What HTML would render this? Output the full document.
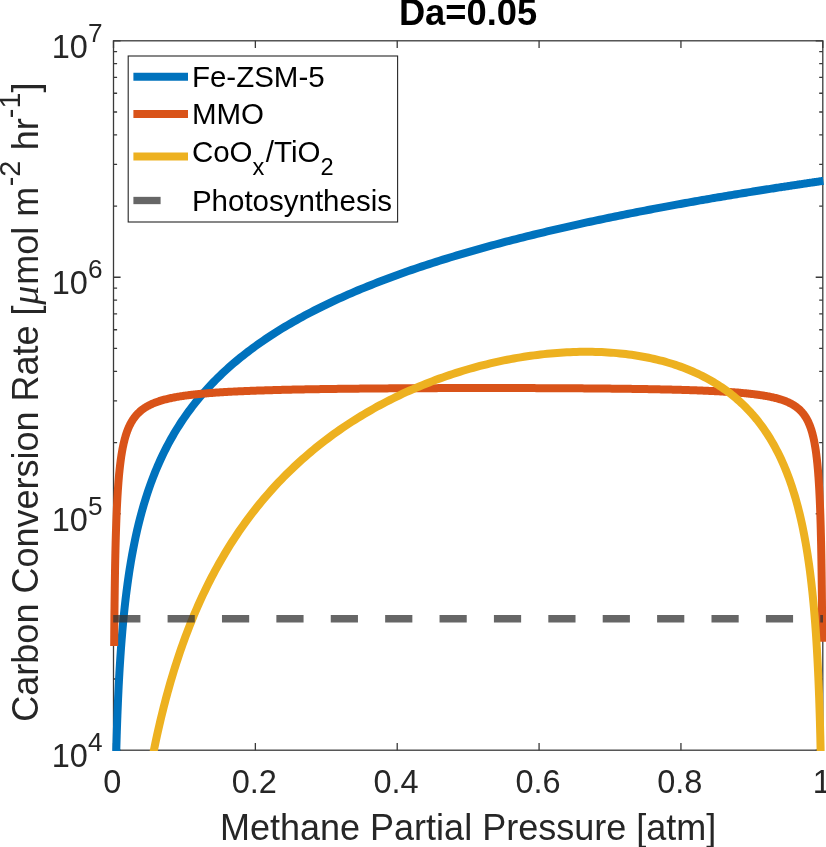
<!DOCTYPE html>
<html><head><meta charset="utf-8"><title>Da=0.05</title>
<style>
html,body{margin:0;padding:0;background:#fff;}
body{width:826px;height:847px;overflow:hidden;}
svg{display:block;font-family:"Liberation Sans",Arial,Helvetica,sans-serif;}
</style></head><body>
<svg width="826" height="847" viewBox="0 0 826 847">
<defs><clipPath id="c"><rect x="109" y="36" width="720" height="715"/></clipPath></defs>
<rect width="826" height="847" fill="#fff"/>
<g fill="none" stroke="#3a3a3a" stroke-width="1.3">
<rect x="113.5" y="40.8" width="709.3" height="709.4000000000001"/>
<path d="M113.50 750.20 v-7.1 M113.50 40.80 v7.1 M255.36 750.20 v-7.1 M255.36 40.80 v7.1 M397.22 750.20 v-7.1 M397.22 40.80 v7.1 M539.08 750.20 v-7.1 M539.08 40.80 v7.1 M680.94 750.20 v-7.1 M680.94 40.80 v7.1 M822.80 750.20 v-7.1 M822.80 40.80 v7.1 M113.50 750.20 h7.1 M822.80 750.20 h-7.1 M113.50 679.02 h3.6 M822.80 679.02 h-3.6 M113.50 637.38 h3.6 M822.80 637.38 h-3.6 M113.50 607.83 h3.6 M822.80 607.83 h-3.6 M113.50 584.92 h3.6 M822.80 584.92 h-3.6 M113.50 566.19 h3.6 M822.80 566.19 h-3.6 M113.50 550.36 h3.6 M822.80 550.36 h-3.6 M113.50 536.65 h3.6 M822.80 536.65 h-3.6 M113.50 524.55 h3.6 M822.80 524.55 h-3.6 M113.50 513.73 h7.1 M822.80 513.73 h-7.1 M113.50 442.55 h3.6 M822.80 442.55 h-3.6 M113.50 400.91 h3.6 M822.80 400.91 h-3.6 M113.50 371.37 h3.6 M822.80 371.37 h-3.6 M113.50 348.45 h3.6 M822.80 348.45 h-3.6 M113.50 329.73 h3.6 M822.80 329.73 h-3.6 M113.50 313.90 h3.6 M822.80 313.90 h-3.6 M113.50 300.18 h3.6 M822.80 300.18 h-3.6 M113.50 288.09 h3.6 M822.80 288.09 h-3.6 M113.50 277.27 h7.1 M822.80 277.27 h-7.1 M113.50 206.08 h3.6 M822.80 206.08 h-3.6 M113.50 164.44 h3.6 M822.80 164.44 h-3.6 M113.50 134.90 h3.6 M822.80 134.90 h-3.6 M113.50 111.98 h3.6 M822.80 111.98 h-3.6 M113.50 93.26 h3.6 M822.80 93.26 h-3.6 M113.50 77.43 h3.6 M822.80 77.43 h-3.6 M113.50 63.72 h3.6 M822.80 63.72 h-3.6 M113.50 51.62 h3.6 M822.80 51.62 h-3.6 M113.50 40.80 h7.1 M822.80 40.80 h-7.1"/>
</g>
<g clip-path="url(#c)" fill="none" stroke-width="8" stroke-linejoin="round">
<path d="M114.92 790.20 L115.40 789.24 L115.45 786.66 L115.50 783.97 L115.55 781.15 L115.61 778.23 L115.68 775.20 L115.74 772.06 L115.82 768.82 L115.89 765.48 L115.97 762.05 L116.06 758.54 L116.15 754.94 L116.25 751.27 L116.35 747.52 L116.46 743.71 L116.57 739.83 L116.69 735.90 L116.82 731.92 L116.95 727.89 L117.09 723.83 L117.24 719.72 L117.39 715.59 L117.55 711.42 L117.72 707.24 L117.89 703.03 L118.08 698.81 L118.27 694.58 L118.47 690.34 L118.68 686.09 L118.90 681.84 L119.13 677.59 L119.37 673.35 L119.61 669.11 L119.87 664.88 L120.14 660.66 L120.42 656.45 L120.71 652.25 L121.00 648.07 L121.32 643.90 L121.64 639.76 L121.97 635.63 L122.32 631.53 L122.67 627.44 L123.04 623.38 L123.43 619.34 L123.82 615.33 L124.23 611.34 L124.65 607.37 L125.09 603.43 L125.54 599.52 L126.00 595.64 L126.48 591.78 L126.98 587.95 L127.49 584.15 L128.01 580.37 L128.55 576.63 L129.10 572.91 L129.67 569.22 L130.26 565.55 L130.86 561.92 L131.48 558.32 L132.12 554.74 L132.78 551.19 L133.45 547.67 L134.14 544.18 L134.85 540.72 L135.57 537.28 L136.32 533.87 L137.08 530.49 L137.86 527.14 L138.67 523.82 L139.49 520.52 L140.33 517.25 L141.19 514.01 L142.07 510.79 L142.97 507.60 L143.89 504.44 L144.83 501.30 L145.80 498.19 L146.78 495.10 L147.79 492.04 L148.82 489.01 L149.87 486.00 L150.94 483.02 L152.03 480.06 L153.15 477.12 L154.29 474.21 L155.45 471.33 L156.64 468.47 L157.85 465.63 L159.08 462.81 L160.34 460.02 L161.62 457.25 L162.92 454.51 L164.25 451.79 L165.60 449.09 L166.98 446.41 L168.38 443.75 L169.80 441.12 L171.25 438.51 L172.73 435.92 L174.23 433.35 L175.75 430.80 L177.30 428.27 L178.88 425.77 L180.48 423.28 L182.11 420.82 L183.76 418.37 L185.44 415.95 L187.15 413.54 L188.88 411.16 L190.63 408.79 L192.42 406.44 L194.22 404.12 L196.06 401.81 L197.92 399.52 L199.81 397.25 L201.72 395.00 L203.66 392.76 L205.63 390.55 L207.62 388.35 L209.64 386.17 L211.68 384.01 L213.75 381.86 L215.85 379.74 L217.98 377.63 L220.13 375.54 L222.30 373.46 L224.50 371.40 L226.73 369.36 L228.99 367.34 L231.27 365.33 L233.57 363.34 L235.90 361.36 L238.26 359.41 L240.64 357.46 L243.05 355.54 L245.49 353.62 L247.94 351.73 L250.43 349.85 L252.94 347.98 L255.47 346.14 L258.03 344.30 L260.61 342.48 L263.22 340.68 L265.85 338.89 L268.50 337.12 L271.18 335.36 L273.88 333.61 L276.61 331.88 L279.36 330.17 L282.13 328.46 L284.92 326.78 L287.74 325.10 L290.58 323.44 L293.44 321.80 L296.32 320.17 L299.22 318.55 L302.15 316.94 L305.09 315.35 L308.06 313.77 L311.04 312.21 L314.05 310.66 L317.08 309.12 L320.12 307.60 L323.19 306.09 L326.27 304.59 L329.37 303.10 L332.49 301.63 L335.62 300.17 L338.78 298.72 L341.95 297.28 L345.14 295.86 L348.34 294.45 L351.56 293.05 L354.79 291.67 L358.04 290.29 L361.31 288.93 L364.59 287.58 L367.88 286.24 L371.19 284.92 L374.51 283.60 L377.84 282.30 L381.18 281.01 L384.54 279.73 L387.91 278.46 L391.29 277.20 L394.67 275.96 L398.07 274.72 L401.48 273.50 L404.90 272.29 L408.33 271.09 L411.76 269.90 L415.20 268.72 L418.65 267.55 L422.11 266.40 L425.57 265.25 L429.04 264.11 L432.52 262.99 L436.00 261.88 L439.48 260.77 L442.97 259.68 L446.46 258.60 L449.96 257.52 L453.45 256.46 L456.95 255.41 L460.46 254.37 L463.96 253.34 L467.46 252.32 L470.97 251.30 L474.47 250.30 L477.97 249.31 L481.47 248.33 L484.97 247.36 L488.47 246.39 L491.97 245.44 L495.46 244.50 L498.95 243.56 L502.43 242.64 L505.91 241.73 L509.39 240.82 L512.85 239.92 L516.32 239.04 L519.77 238.16 L523.22 237.29 L526.67 236.43 L530.10 235.58 L533.53 234.74 L536.95 233.91 L540.35 233.08 L543.75 232.27 L547.14 231.46 L550.52 230.67 L553.89 229.88 L557.24 229.10 L560.59 228.33 L563.92 227.57 L567.24 226.81 L570.55 226.07 L573.84 225.33 L577.12 224.60 L580.38 223.88 L583.63 223.17 L586.87 222.46 L590.09 221.77 L593.29 221.08 L596.48 220.40 L599.65 219.73 L602.80 219.06 L605.94 218.41 L609.06 217.76 L612.16 217.12 L615.24 216.48 L618.31 215.86 L621.35 215.24 L624.38 214.63 L627.38 214.03 L630.37 213.43 L633.34 212.85 L636.28 212.27 L639.20 211.69 L642.11 211.13 L644.99 210.57 L647.85 210.02 L650.69 209.47 L653.51 208.94 L656.30 208.41 L659.07 207.88 L661.82 207.37 L664.54 206.86 L667.25 206.36 L669.92 205.86 L672.58 205.37 L675.21 204.89 L677.82 204.42 L680.40 203.95 L682.96 203.48 L685.49 203.03 L688.00 202.58 L690.48 202.14 L692.94 201.70 L695.38 201.27 L697.78 200.84 L700.17 200.43 L702.52 200.01 L704.86 199.61 L707.16 199.21 L709.44 198.82 L711.70 198.43 L713.92 198.05 L716.13 197.67 L718.30 197.30 L720.45 196.94 L722.58 196.58 L724.67 196.22 L726.74 195.88 L728.79 195.53 L730.81 195.20 L732.80 194.87 L734.77 194.54 L736.71 194.22 L738.62 193.91 L740.51 193.60 L742.37 193.29 L744.20 192.99 L746.01 192.70 L747.80 192.41 L749.55 192.13 L751.28 191.85 L752.99 191.57 L754.67 191.30 L756.32 191.04 L757.95 190.78 L759.55 190.52 L761.12 190.27 L762.68 190.03 L764.20 189.79 L765.70 189.55 L767.18 189.32 L768.63 189.09 L770.05 188.87 L771.45 188.65 L772.83 188.43 L774.18 188.22 L775.51 188.02 L776.81 187.82 L778.09 187.62 L779.35 187.42 L780.58 187.23 L781.79 187.05 L782.97 186.87 L784.14 186.69 L785.28 186.51 L786.39 186.34 L787.49 186.18 L788.56 186.01 L789.61 185.85 L790.64 185.70 L791.64 185.55 L792.63 185.40 L793.59 185.25 L794.54 185.11 L795.46 184.97 L796.36 184.83 L797.24 184.70 L798.10 184.57 L798.94 184.45 L799.76 184.32 L800.56 184.20 L801.35 184.09 L802.11 183.97 L802.86 183.86 L803.58 183.75 L804.29 183.65 L804.98 183.55 L805.65 183.45 L806.31 183.35 L806.94 183.25 L807.56 183.16 L808.17 183.07 L808.75 182.99 L809.33 182.90 L809.88 182.82 L810.42 182.74 L810.94 182.66 L811.45 182.59 L812.42 182.45 L813.34 182.31 L814.20 182.19 L815.00 182.07 L815.75 181.96 L816.46 181.85 L817.11 181.76 L817.72 181.67 L818.29 181.59 L818.81 181.51 L819.53 181.41 L820.16 181.32 L820.71 181.24 L821.34 181.14 L821.86 181.07 L822.37 180.99 L822.87 180.92 L823.37 180.85" stroke="#0072BD"/>
<path d="M114.17 645.90 L114.17 645.31 L114.18 644.68 L114.18 643.96 L114.19 643.33 L114.19 642.56 L114.20 641.63 L114.20 641.10 L114.21 640.53 L114.21 639.91 L114.22 639.25 L114.22 638.53 L114.23 637.76 L114.23 636.94 L114.24 636.06 L114.25 635.13 L114.26 634.14 L114.26 633.09 L114.27 631.98 L114.28 630.81 L114.29 629.58 L114.30 628.29 L114.32 626.93 L114.33 625.52 L114.34 624.04 L114.36 622.50 L114.37 620.90 L114.39 619.24 L114.40 617.52 L114.42 615.75 L114.44 613.92 L114.46 612.03 L114.48 610.09 L114.50 608.09 L114.53 606.05 L114.55 603.96 L114.57 601.82 L114.60 599.64 L114.63 597.42 L114.66 595.16 L114.69 592.86 L114.72 590.53 L114.75 588.16 L114.79 585.77 L114.82 583.35 L114.86 580.90 L114.90 578.44 L114.94 575.95 L114.98 573.45 L115.02 570.93 L115.07 568.40 L115.12 565.86 L115.17 563.32 L115.22 560.77 L115.27 558.22 L115.33 555.66 L115.38 553.11 L115.44 550.56 L115.50 548.02 L115.57 545.49 L115.63 542.96 L115.70 540.44 L115.77 537.94 L115.84 535.45 L115.92 532.98 L115.99 530.52 L116.07 528.08 L116.16 525.66 L116.24 523.26 L116.33 520.88 L116.42 518.52 L116.51 516.19 L116.61 513.88 L116.71 511.59 L116.81 509.33 L116.91 507.10 L117.02 504.89 L117.13 502.71 L117.25 500.56 L117.36 498.43 L117.48 496.34 L117.61 494.27 L117.73 492.23 L117.86 490.22 L118.00 488.25 L118.14 486.30 L118.28 484.38 L118.42 482.49 L118.57 480.63 L118.72 478.80 L118.88 477.00 L119.04 475.23 L119.20 473.49 L119.37 471.78 L119.54 470.10 L119.72 468.45 L119.90 466.83 L120.08 465.24 L120.27 463.67 L120.46 462.14 L120.66 460.63 L120.86 459.15 L121.07 457.70 L121.28 456.28 L121.49 454.88 L121.71 453.51 L121.94 452.17 L122.17 450.85 L122.40 449.56 L122.64 448.30 L122.89 447.06 L123.14 445.84 L123.40 444.65 L123.66 443.48 L123.92 442.34 L124.19 441.22 L124.47 440.12 L124.75 439.05 L125.04 437.99 L125.33 436.96 L125.63 435.95 L125.93 434.97 L126.24 434.00 L126.56 433.05 L126.88 432.12 L127.21 431.21 L127.54 430.32 L127.88 429.45 L128.23 428.60 L128.58 427.77 L128.94 426.95 L129.31 426.15 L129.68 425.37 L130.06 424.61 L130.44 423.86 L130.83 423.13 L131.23 422.41 L131.63 421.71 L132.04 421.02 L132.46 420.35 L132.89 419.69 L133.32 419.05 L133.76 418.42 L134.20 417.80 L134.66 417.20 L135.12 416.61 L135.58 416.03 L136.06 415.47 L136.54 414.91 L137.03 414.37 L137.53 413.84 L138.03 413.32 L138.54 412.82 L139.06 412.32 L139.59 411.83 L140.13 411.36 L140.67 410.89 L141.22 410.44 L141.78 409.99 L142.35 409.55 L142.92 409.13 L143.50 408.71 L144.10 408.30 L144.70 407.90 L145.30 407.51 L145.92 407.12 L146.54 406.74 L147.18 406.38 L147.82 406.02 L148.47 405.66 L149.13 405.32 L149.79 404.98 L150.47 404.65 L151.15 404.32 L151.85 404.00 L152.55 403.69 L153.26 403.39 L153.98 403.09 L154.71 402.79 L155.44 402.51 L156.19 402.23 L156.95 401.95 L157.71 401.68 L158.49 401.42 L159.27 401.16 L160.06 400.90 L160.86 400.66 L161.67 400.41 L162.49 400.17 L163.32 399.94 L164.16 399.71 L165.01 399.49 L165.87 399.27 L166.74 399.05 L167.62 398.84 L168.50 398.63 L169.40 398.43 L170.31 398.23 L171.22 398.03 L172.15 397.84 L173.08 397.65 L174.03 397.47 L174.98 397.29 L175.95 397.11 L176.92 396.93 L177.91 396.76 L178.90 396.60 L179.91 396.43 L180.92 396.27 L181.95 396.11 L182.98 395.96 L184.03 395.81 L185.08 395.66 L186.15 395.51 L187.22 395.37 L188.31 395.23 L189.40 395.09 L190.51 394.95 L191.63 394.82 L192.75 394.69 L193.89 394.56 L195.03 394.43 L196.19 394.31 L197.36 394.19 L198.53 394.07 L199.72 393.95 L200.92 393.84 L202.13 393.72 L203.34 393.61 L204.57 393.51 L205.81 393.40 L207.06 393.29 L208.32 393.19 L209.59 393.09 L210.87 392.99 L212.16 392.89 L213.46 392.80 L214.77 392.70 L216.09 392.61 L217.42 392.52 L218.76 392.43 L220.11 392.34 L221.47 392.26 L222.84 392.17 L224.22 392.09 L225.61 392.01 L227.02 391.93 L228.43 391.85 L229.85 391.77 L231.28 391.70 L232.72 391.62 L234.17 391.55 L235.64 391.48 L237.11 391.41 L238.59 391.34 L240.08 391.27 L241.58 391.20 L243.10 391.14 L244.62 391.07 L246.15 391.01 L247.69 390.94 L249.24 390.88 L250.80 390.82 L252.37 390.76 L253.95 390.71 L255.54 390.65 L257.14 390.59 L258.75 390.54 L260.37 390.48 L262.00 390.43 L263.63 390.38 L265.28 390.32 L266.93 390.27 L268.60 390.22 L270.27 390.17 L271.96 390.13 L273.65 390.08 L275.35 390.03 L277.06 389.99 L278.78 389.94 L280.51 389.90 L282.25 389.85 L283.99 389.81 L285.75 389.77 L287.51 389.73 L289.28 389.69 L291.06 389.65 L292.85 389.61 L294.65 389.57 L296.45 389.53 L298.27 389.49 L300.09 389.46 L301.92 389.42 L303.76 389.39 L305.61 389.35 L307.46 389.32 L309.32 389.29 L311.19 389.25 L313.07 389.22 L314.96 389.19 L316.85 389.16 L318.75 389.13 L320.66 389.10 L322.57 389.07 L324.50 389.04 L326.43 389.01 L328.36 388.98 L330.31 388.96 L332.26 388.93 L334.22 388.90 L336.18 388.88 L338.15 388.85 L340.13 388.83 L342.11 388.80 L344.11 388.78 L346.10 388.76 L348.11 388.73 L350.12 388.71 L352.13 388.69 L354.15 388.67 L356.18 388.65 L358.21 388.63 L360.25 388.61 L362.30 388.59 L364.35 388.57 L366.40 388.55 L368.46 388.53 L370.53 388.51 L372.60 388.49 L374.67 388.48 L376.75 388.46 L378.84 388.44 L380.93 388.43 L383.02 388.41 L385.12 388.40 L387.23 388.38 L389.33 388.37 L391.45 388.35 L393.56 388.34 L395.68 388.32 L397.80 388.31 L399.93 388.30 L402.06 388.29 L404.20 388.27 L406.34 388.26 L408.48 388.25 L410.62 388.24 L412.77 388.23 L414.92 388.22 L417.07 388.21 L419.23 388.20 L421.39 388.19 L423.55 388.18 L425.71 388.17 L427.88 388.16 L430.04 388.15 L432.21 388.15 L434.38 388.14 L436.56 388.13 L438.73 388.12 L440.91 388.12 L443.09 388.11 L445.27 388.11 L447.45 388.10 L449.63 388.09 L451.81 388.09 L454.00 388.08 L456.18 388.08 L458.37 388.08 L460.55 388.07 L462.74 388.07 L464.92 388.07 L467.11 388.06 L469.30 388.06 L471.48 388.06 L473.67 388.06 L475.86 388.05 L478.04 388.05 L480.23 388.05 L482.41 388.05 L484.60 388.05 L486.78 388.05 L488.96 388.05 L491.14 388.05 L493.32 388.05 L495.50 388.05 L497.68 388.05 L499.85 388.05 L502.02 388.06 L504.20 388.06 L506.37 388.06 L508.53 388.06 L510.70 388.07 L512.86 388.07 L515.02 388.07 L517.18 388.08 L519.34 388.08 L521.49 388.09 L523.64 388.09 L525.79 388.10 L527.93 388.10 L530.07 388.11 L532.21 388.11 L534.35 388.12 L536.48 388.13 L538.60 388.13 L540.73 388.14 L542.85 388.15 L544.96 388.16 L547.07 388.17 L549.18 388.18 L551.29 388.18 L553.38 388.19 L555.48 388.20 L557.57 388.21 L559.65 388.22 L561.74 388.24 L563.81 388.25 L565.88 388.26 L567.95 388.27 L570.01 388.28 L572.06 388.29 L574.11 388.31 L576.16 388.32 L578.20 388.33 L580.23 388.35 L582.26 388.36 L584.28 388.38 L586.29 388.39 L588.30 388.41 L590.31 388.43 L592.30 388.44 L594.29 388.46 L596.28 388.48 L598.26 388.49 L600.23 388.51 L602.19 388.53 L604.15 388.55 L606.10 388.57 L608.04 388.59 L609.98 388.61 L611.91 388.63 L613.83 388.65 L615.75 388.67 L617.66 388.69 L619.56 388.72 L621.45 388.74 L623.34 388.76 L625.22 388.79 L627.09 388.81 L628.95 388.84 L630.80 388.86 L632.65 388.89 L634.49 388.92 L636.32 388.94 L638.14 388.97 L639.95 389.00 L641.76 389.03 L643.56 389.06 L645.35 389.09 L647.13 389.12 L648.90 389.15 L650.66 389.18 L652.42 389.21 L654.16 389.24 L655.90 389.28 L657.63 389.31 L659.35 389.35 L661.06 389.38 L662.76 389.42 L664.45 389.46 L666.14 389.49 L667.81 389.53 L669.47 389.57 L671.13 389.61 L672.78 389.65 L674.41 389.69 L676.04 389.73 L677.66 389.78 L679.27 389.82 L680.87 389.87 L682.46 389.91 L684.04 389.96 L685.61 390.00 L687.17 390.05 L688.72 390.10 L690.26 390.15 L691.79 390.20 L693.31 390.25 L694.82 390.30 L696.33 390.36 L697.82 390.41 L699.30 390.47 L700.77 390.52 L702.23 390.58 L703.69 390.64 L705.13 390.70 L706.56 390.76 L707.98 390.82 L709.39 390.88 L710.79 390.95 L712.19 391.01 L713.57 391.08 L714.94 391.15 L716.30 391.22 L717.65 391.29 L718.99 391.36 L720.32 391.43 L721.64 391.51 L722.95 391.58 L724.25 391.66 L725.54 391.74 L726.82 391.82 L728.09 391.90 L729.35 391.98 L730.60 392.07 L731.84 392.15 L733.06 392.24 L734.28 392.33 L735.49 392.42 L736.69 392.52 L737.87 392.61 L739.05 392.71 L740.22 392.81 L741.37 392.91 L742.52 393.01 L743.66 393.11 L744.78 393.22 L745.90 393.33 L747.00 393.44 L748.10 393.55 L749.19 393.67 L750.26 393.78 L751.33 393.90 L752.38 394.03 L753.43 394.15 L754.46 394.28 L755.48 394.41 L756.50 394.54 L757.50 394.67 L758.50 394.81 L759.48 394.95 L760.46 395.09 L761.42 395.24 L762.38 395.38 L763.33 395.54 L764.26 395.69 L765.19 395.85 L766.10 396.01 L767.01 396.17 L767.91 396.34 L768.79 396.51 L769.67 396.69 L770.54 396.86 L771.40 397.05 L772.25 397.23 L773.08 397.42 L773.91 397.61 L774.73 397.81 L775.55 398.01 L776.35 398.22 L777.14 398.43 L777.92 398.64 L778.70 398.86 L779.46 399.09 L780.22 399.32 L780.96 399.55 L781.70 399.79 L782.43 400.03 L783.15 400.28 L783.86 400.53 L784.56 400.79 L785.26 401.06 L785.94 401.33 L786.62 401.61 L787.28 401.89 L787.94 402.18 L788.59 402.47 L789.23 402.78 L789.87 403.09 L790.49 403.40 L791.11 403.72 L791.71 404.05 L792.31 404.39 L792.90 404.73 L793.49 405.09 L794.06 405.45 L794.63 405.81 L795.19 406.19 L795.74 406.58 L796.28 406.97 L796.82 407.37 L797.34 407.78 L797.86 408.21 L798.38 408.64 L798.88 409.08 L799.38 409.53 L799.87 409.99 L800.35 410.46 L800.82 410.94 L801.29 411.43 L801.75 411.94 L802.21 412.45 L802.65 412.98 L803.09 413.52 L803.52 414.07 L803.95 414.64 L804.36 415.22 L804.78 415.81 L805.18 416.41 L805.58 417.03 L805.97 417.67 L806.35 418.32 L806.73 418.98 L807.10 419.66 L807.47 420.35 L807.83 421.06 L808.18 421.79 L808.52 422.53 L808.86 423.29 L809.20 424.07 L809.53 424.87 L809.85 425.68 L810.16 426.51 L810.47 427.37 L810.78 428.24 L811.08 429.13 L811.37 430.04 L811.66 430.98 L811.94 431.93 L812.22 432.91 L812.49 433.90 L812.75 434.93 L813.01 435.97 L813.27 437.04 L813.52 438.13 L813.76 439.24 L814.00 440.38 L814.24 441.55 L814.47 442.74 L814.69 443.95 L814.91 445.20 L815.13 446.47 L815.34 447.76 L815.55 449.09 L815.75 450.44 L815.95 451.82 L816.14 453.23 L816.33 454.67 L816.51 456.14 L816.69 457.64 L816.87 459.17 L817.04 460.73 L817.21 462.32 L817.37 463.95 L817.53 465.60 L817.69 467.29 L817.84 469.01 L817.99 470.76 L818.13 472.54 L818.27 474.36 L818.41 476.20 L818.54 478.09 L818.67 480.00 L818.80 481.95 L818.92 483.93 L819.05 485.94 L819.16 487.98 L819.28 490.06 L819.39 492.17 L819.49 494.31 L819.60 496.49 L819.70 498.69 L819.80 500.93 L819.90 503.20 L819.99 505.49 L820.08 507.82 L820.17 510.17 L820.25 512.55 L820.33 514.96 L820.41 517.39 L820.49 519.85 L820.57 522.34 L820.64 524.84 L820.71 527.37 L820.78 529.91 L820.84 532.48 L820.90 535.06 L820.97 537.66 L821.03 540.27 L821.08 542.89 L821.14 545.52 L821.19 548.17 L821.24 550.81 L821.29 553.46 L821.34 556.11 L821.38 558.76 L821.43 561.41 L821.47 564.04 L821.51 566.68 L821.55 569.29 L821.59 571.90 L821.62 574.49 L821.66 577.05 L821.69 579.60 L821.72 582.12 L821.75 584.61 L821.78 587.07 L821.81 589.49 L821.83 591.88 L821.86 594.22 L821.88 596.53 L821.91 598.79 L821.93 601.00 L821.95 603.16 L821.97 605.26 L821.99 607.31 L822.00 609.31 L822.02 611.24 L822.04 613.12 L822.05 614.93 L822.07 616.68 L822.08 618.36 L822.09 619.98 L822.10 621.53 L822.11 623.02 L822.12 624.43 L822.13 625.78 L822.14 627.07 L822.15 628.28 L822.16 629.44 L822.17 630.52 L822.17 631.55 L822.18 632.51 L822.19 633.40 L822.19 634.24 L822.20 635.03 L822.20 635.75 L822.21 636.42 L822.21 637.04 L822.21 637.61 L822.22 638.14 L822.22 639.05 L822.23 639.80 L822.23 640.40 L822.24 641.08 L822.24 641.64" stroke="#D95319"/>
<path d="M134.78 790.20 L135.29 790.20 L135.80 790.20 L136.38 790.20 L136.88 790.20 L137.49 790.20 L138.03 790.20 L138.64 790.20 L139.33 790.20 L139.84 790.20 L140.39 790.20 L140.98 790.20 L141.62 790.20 L142.30 790.20 L143.03 790.20 L143.81 790.20 L144.64 790.20 L145.53 790.20 L146.47 790.20 L146.96 787.89 L147.47 784.88 L147.99 781.82 L148.53 778.72 L149.08 775.59 L149.65 772.42 L150.24 769.21 L150.84 765.96 L151.46 762.69 L152.09 759.38 L152.74 756.04 L153.41 752.67 L154.10 749.27 L154.80 745.85 L155.52 742.40 L156.26 738.93 L157.02 735.44 L157.80 731.92 L158.60 728.39 L159.41 724.83 L160.25 721.26 L161.10 717.68 L161.97 714.08 L162.87 710.46 L163.78 706.84 L164.72 703.20 L165.67 699.56 L166.65 695.90 L167.64 692.24 L168.66 688.58 L169.70 684.91 L170.76 681.23 L171.84 677.56 L172.95 673.88 L174.08 670.20 L175.23 666.52 L176.40 662.84 L177.59 659.17 L178.81 655.50 L180.05 651.83 L181.31 648.17 L182.60 644.51 L183.91 640.86 L185.25 637.22 L186.60 633.59 L187.99 629.97 L189.39 626.35 L190.82 622.75 L192.28 619.16 L193.76 615.58 L195.26 612.01 L196.79 608.46 L198.34 604.92 L199.92 601.40 L201.52 597.89 L203.15 594.39 L204.80 590.92 L206.48 587.46 L208.18 584.01 L209.91 580.59 L211.66 577.18 L213.44 573.79 L215.25 570.42 L217.08 567.07 L218.93 563.74 L220.81 560.43 L222.72 557.14 L224.65 553.87 L226.61 550.62 L228.59 547.39 L230.60 544.18 L232.63 541.00 L234.69 537.84 L236.77 534.70 L238.88 531.59 L241.02 528.50 L243.18 525.43 L245.36 522.38 L247.57 519.36 L249.81 516.37 L252.07 513.39 L254.36 510.45 L256.67 507.52 L259.00 504.63 L261.36 501.75 L263.74 498.91 L266.15 496.08 L268.58 493.29 L271.04 490.51 L273.52 487.77 L276.02 485.05 L278.55 482.36 L281.10 479.69 L283.67 477.05 L286.27 474.43 L288.89 471.85 L291.53 469.28 L294.20 466.75 L296.88 464.24 L299.59 461.76 L302.32 459.31 L305.07 456.88 L307.85 454.48 L310.64 452.11 L313.46 449.76 L316.29 447.44 L319.15 445.15 L322.02 442.89 L324.92 440.65 L327.83 438.44 L330.76 436.26 L333.72 434.10 L336.69 431.98 L339.68 429.88 L342.68 427.81 L345.71 425.77 L348.75 423.75 L351.80 421.76 L354.88 419.80 L357.97 417.87 L361.07 415.97 L364.20 414.09 L367.33 412.24 L370.48 410.42 L373.65 408.63 L376.83 406.86 L380.02 405.12 L383.22 403.41 L386.44 401.73 L389.67 400.08 L392.91 398.45 L396.17 396.86 L399.43 395.29 L402.71 393.74 L405.99 392.23 L409.29 390.74 L412.59 389.29 L415.91 387.86 L419.23 386.45 L422.56 385.08 L425.90 383.73 L429.24 382.42 L432.59 381.13 L435.95 379.86 L439.31 378.63 L442.68 377.42 L446.05 376.24 L449.43 375.09 L452.81 373.97 L456.20 372.87 L459.59 371.81 L462.98 370.77 L466.37 369.76 L469.77 368.77 L473.16 367.82 L476.56 366.89 L479.96 365.99 L483.35 365.12 L486.75 364.27 L490.14 363.46 L493.54 362.67 L496.93 361.90 L500.32 361.17 L503.70 360.46 L507.08 359.79 L510.46 359.14 L513.83 358.51 L517.20 357.92 L520.57 357.35 L523.92 356.81 L527.27 356.30 L530.62 355.81 L533.96 355.36 L537.29 354.93 L540.61 354.53 L543.92 354.15 L547.23 353.80 L550.52 353.49 L553.81 353.19 L557.08 352.93 L560.35 352.69 L563.60 352.48 L566.84 352.30 L570.07 352.15 L573.29 352.02 L576.50 351.92 L579.69 351.85 L582.87 351.81 L586.03 351.79 L589.18 351.80 L592.32 351.84 L595.44 351.91 L598.55 352.00 L601.64 352.12 L604.71 352.27 L607.77 352.44 L610.81 352.65 L613.83 352.88 L616.84 353.13 L619.83 353.42 L622.80 353.73 L625.75 354.07 L628.68 354.44 L631.60 354.83 L634.49 355.26 L637.37 355.71 L640.22 356.18 L643.06 356.69 L645.87 357.22 L648.67 357.78 L651.44 358.37 L654.19 358.98 L656.92 359.62 L659.63 360.29 L662.32 360.99 L664.98 361.71 L667.62 362.47 L670.24 363.25 L672.84 364.05 L675.41 364.89 L677.96 365.75 L680.49 366.64 L683.00 367.56 L685.48 368.50 L687.93 369.48 L690.36 370.48 L692.77 371.51 L695.16 372.56 L697.51 373.65 L699.85 374.76 L702.16 375.90 L704.44 377.07 L706.70 378.27 L708.94 379.49 L711.15 380.74 L713.34 382.02 L715.50 383.33 L717.63 384.67 L719.74 386.03 L721.83 387.43 L723.88 388.85 L725.92 390.30 L727.93 391.78 L729.91 393.28 L731.87 394.82 L733.80 396.38 L735.70 397.98 L737.58 399.60 L739.44 401.25 L741.27 402.93 L743.07 404.64 L744.85 406.38 L746.61 408.14 L748.33 409.94 L750.04 411.76 L751.71 413.62 L753.37 415.50 L754.99 417.42 L756.60 419.36 L758.17 421.34 L759.73 423.34 L761.26 425.37 L762.76 427.44 L764.24 429.53 L765.69 431.65 L767.12 433.81 L768.53 436.00 L769.91 438.21 L771.27 440.46 L772.60 442.74 L773.91 445.04 L775.20 447.39 L776.46 449.76 L777.71 452.16 L778.92 454.59 L780.12 457.06 L781.29 459.56 L782.44 462.09 L783.57 464.65 L784.67 467.25 L785.75 469.88 L786.81 472.54 L787.85 475.23 L788.87 477.96 L789.87 480.71 L790.84 483.51 L791.80 486.33 L792.73 489.19 L793.65 492.09 L794.54 495.02 L795.42 497.98 L796.27 500.97 L797.10 504.00 L797.92 507.07 L798.71 510.17 L799.49 513.31 L800.25 516.48 L800.99 519.68 L801.71 522.92 L802.42 526.20 L803.10 529.51 L803.77 532.86 L804.42 536.25 L805.06 539.67 L805.68 543.13 L806.28 546.62 L806.86 550.15 L807.43 553.71 L807.99 557.32 L808.52 560.96 L809.05 564.63 L809.55 568.34 L810.05 572.09 L810.52 575.88 L810.99 579.70 L811.44 583.56 L811.87 587.45 L812.30 591.38 L812.71 595.34 L813.10 599.34 L813.49 603.37 L813.86 607.44 L814.22 611.54 L814.56 615.67 L814.90 619.84 L815.22 624.04 L815.53 628.27 L815.84 632.53 L816.13 636.81 L816.41 641.13 L816.67 645.47 L816.93 649.83 L817.18 654.22 L817.42 658.63 L817.65 663.06 L817.87 667.51 L818.09 671.97 L818.29 676.44 L818.49 680.93 L818.67 685.42 L818.85 689.91 L819.02 694.41 L819.19 698.90 L819.34 703.38 L819.49 707.86 L819.63 712.31 L819.77 716.75 L819.90 721.16 L820.02 725.54 L820.13 729.89 L820.24 734.19 L820.35 738.45 L820.45 742.65 L820.54 746.80 L820.63 750.88 L820.71 754.88 L820.79 758.81 L820.87 762.65 L820.94 766.40 L821.00 770.05 L821.06 773.60 L821.12 777.04 L821.17 780.37 L821.22 783.57 L821.27 786.65 L821.31 789.61 L821.35 790.20" stroke="#EDB120"/>
<path d="M113.2 618.77 H823" stroke="#333" stroke-opacity="0.75" stroke-width="7.3" stroke-dasharray="27.2 27.19"/>
</g>
<g fill="#262626" font-size="32.5">
<text x="112.40" y="793.4" text-anchor="middle">0</text>
<text x="254.26" y="793.4" text-anchor="middle">0.2</text>
<text x="396.12" y="793.4" text-anchor="middle">0.4</text>
<text x="537.98" y="793.4" text-anchor="middle">0.6</text>
<text x="679.84" y="793.4" text-anchor="middle">0.8</text>
<text x="821.70" y="793.4" text-anchor="middle">1</text>
<text x="51.8" y="767.00">10<tspan dy="-16" font-size="26.2">4</tspan></text>
<text x="51.8" y="530.53">10<tspan dy="-16" font-size="26.2">5</tspan></text>
<text x="51.8" y="294.07">10<tspan dy="-16" font-size="26.2">6</tspan></text>
<text x="51.8" y="57.60">10<tspan dy="-16" font-size="26.2">7</tspan></text>
</g>
<text x="468" y="25.2" text-anchor="middle" font-size="36.3" font-weight="bold" fill="#000">Da=0.05</text>
<text x="468.1" y="839.5" text-anchor="middle" font-size="36.0" fill="#262626">Methane Partial Pressure [atm]</text>
<text transform="translate(38 402.1) rotate(-90)" text-anchor="middle" font-size="36.0" fill="#262626">Carbon Conversion Rate [<tspan font-style="italic" font-family="Liberation Serif,serif" dx="0.8" font-size="38">μ</tspan><tspan dx="0.8">mol m</tspan><tspan dy="-17.6" dx="0.5" font-size="28.8">-2</tspan><tspan dy="17.6" dx="0.5"> hr</tspan><tspan dy="-17.6" font-size="28.8">-1</tspan><tspan dy="17.6">]</tspan></text>
<g>
<rect x="128.2" y="56" width="269.4" height="166" fill="#fff" stroke="#262626" stroke-width="1.1"/>
<g fill="none" stroke-width="8">
<path d="M133.4 76.8 H188" stroke="#0072BD"/>
<path d="M133.4 113.9 H188" stroke="#D95319"/>
<path d="M133.4 156.4 H188" stroke="#EDB120"/>
<path d="M133.4 200.5 H160.6" stroke="#333" stroke-opacity="0.75" stroke-width="7.3"/>
</g>
<g font-size="29.5" fill="#000">
<text x="191.9" y="86.5">Fe-ZSM-5</text>
<text x="191.9" y="123.8">MMO</text>
<text x="191.9" y="162.2">CoO<tspan dy="12.9" font-size="23.6">x</tspan><tspan dy="-12.9" dx="1.5">/TiO</tspan><tspan dy="12.9" font-size="23.6">2</tspan></text>
<text x="191.9" y="210.7">Photosynthesis</text>
</g>
</g>
</svg>
</body></html>
